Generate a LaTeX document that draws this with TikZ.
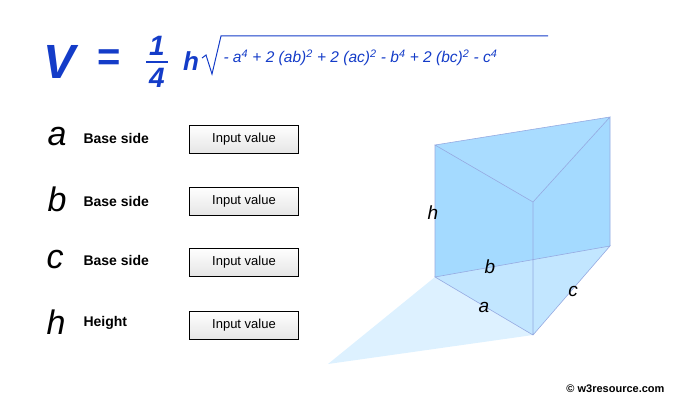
\documentclass[tikz,border=0pt]{standalone}
\usepackage{fontspec}
\setmainfont{Liberation Sans}
\usetikzlibrary{positioning}
\definecolor{fblue}{RGB}{20,60,200}
\definecolor{prism}{RGB}{120,200,255}
\definecolor{pedge}{RGB}{150,170,225}
\tikzset{
  inbox/.style={rectangle, minimum width=109pt, minimum height=28pt, draw=black, top color=white, bottom color=gray!20, font=\fontsize{13}{14}\selectfont},
  letter/.style={font=\itshape\fontsize{34}{36}\selectfont},
  caption/.style={font=\bfseries\fontsize{14}{16}\selectfont, anchor=west},
  edgelab/.style={font=\itshape\fontsize{19}{21}\selectfont}
}
\begin{document}
\begin{tikzpicture}[x=1pt, y=-1pt]
    \useasboundingbox (0,0) rectangle (678,404);

    % formula
    \node (vv) [fblue, font=\bfseries\itshape\fontsize{48}{50}\selectfont] at (60,62) {V};
    \node (eq) [fblue, font=\bfseries\fontsize{40}{42}\selectfont] at (109,60) {=};
    \node (num) [fblue, font=\bfseries\itshape\fontsize{28}{30}\selectfont] at (157,46) {1};
    \node (den) [fblue, font=\bfseries\itshape\fontsize{28}{30}\selectfont] at (157,78) {4};
    \draw [fblue, line width=2pt] (146,62) -- (168,62);
    \node (hh) [fblue, font=\bfseries\itshape\fontsize{26}{28}\selectfont] at (191,61) {h};
    \draw [fblue, line width=1pt] (202,58) -- (206,55) -- (212,74) -- (221,36) -- (548,36);
    \node (rad) [fblue, anchor=west, font=\itshape\fontsize{15.5}{17}\selectfont] at (220,58)
      {- a\textsuperscript{4} + 2 (ab)\textsuperscript{2} + 2 (ac)\textsuperscript{2} - b\textsuperscript{4} + 2 (bc)\textsuperscript{2} - c\textsuperscript{4}};

    % inputs
    \node (la) [letter] at (57,137) {a};
    \node (lb) [letter] at (57,199) {b};
    \node (lc) [letter] at (55,260) {c};
    \node (lh) [letter] at (56,322) {h};
    \node (ca) [caption] at (80,138) {Base side};
    \node (cb) [caption] at (80,201) {Base side};
    \node (cc) [caption] at (80,260) {Base side};
    \node (ch) [caption] at (80,323) {Height};
    \node (ia) [inbox] at (244,139) {Input value};
    \node (ib) [inbox] at (244,201) {Input value};
    \node (ic) [inbox] at (244,262) {Input value};
    \node (ih) [inbox] at (244,325) {Input value};

    % prism
    \coordinate (A) at (435,277);
    \coordinate (B) at (533,335);
    \coordinate (C) at (610,246);
    \coordinate (At) at (435,145);
    \coordinate (Bt) at (533,202);
    \coordinate (Ct) at (610,117);
    \coordinate (S) at (328,364);
    \fill [prism!25] (A) -- (B) -- (S) -- cycle;
    \fill [prism, opacity=0.4] (A) -- (C) -- (Ct) -- (At) -- cycle;
    \fill [prism, opacity=0.4] (At) -- (Bt) -- (Ct) -- cycle;
    \fill [prism, opacity=0.45] (A) -- (B) -- (Bt) -- (At) -- cycle;
    \fill [prism, opacity=0.45] (B) -- (C) -- (Ct) -- (Bt) -- cycle;
    \draw [pedge, line width=0.6pt] (A) -- (B) -- (C) -- cycle (At) -- (Bt) -- (Ct) -- cycle
      (A) -- (At) (B) -- (Bt) (C) -- (Ct);
    \node (eh) [edgelab] at (433,213) {h};
    \node (eb) [edgelab] at (490,267) {b};
    \node (ea) [edgelab] at (484,307) {a};
    \node (ec) [edgelab] at (573,291) {c};
    \node (copy) [anchor=east, font=\bfseries\fontsize{11}{12}\selectfont] at (668,389) {\textcopyright{} w3resource.com};
\end{tikzpicture}
\end{document}
